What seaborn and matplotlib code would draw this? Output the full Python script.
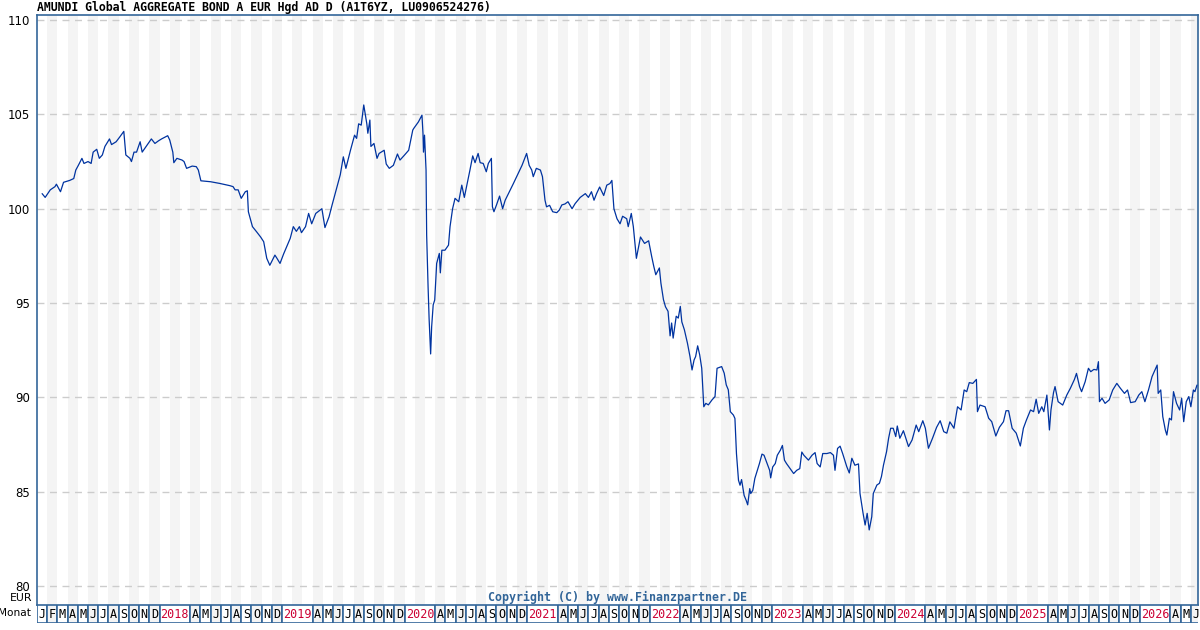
import matplotlib
matplotlib.use("Agg")
import matplotlib.pyplot as plt
import seaborn as sns

# price series: x = months since Jan 2017, y = fund price in EUR
months = [
    0.5, 0.8, 1.3, 1.76, 1.9, 2.3, 2.6, 3.2, 3.6, 3.8, 4.05, 4.4, 4.6, 5.0, 5.3, 5.5, 5.85, 6.1, 6.4, 6.65,
    7.1, 7.3, 7.75, 8.1, 8.5, 8.7, 9.1, 9.25, 9.5, 9.75, 10.1, 10.3, 10.9, 11.2, 11.55, 11.9, 12.2, 12.8, 13.0, 13.3,
    13.4, 13.7, 14.2, 14.4, 14.65, 15.2, 15.6, 15.8, 16.05, 17.0, 17.9, 18.9, 19.2, 19.4, 19.7, 20.0, 20.4, 20.6, 20.7, 21.1,
    21.5, 21.9, 22.2, 22.5, 22.8, 23.3, 23.5, 23.8, 24.15, 24.8, 25.1, 25.4, 25.7, 25.9, 26.3, 26.6, 26.9, 27.3, 27.9, 28.2,
    28.6, 28.9, 29.2, 29.7, 30.0, 30.25, 30.7, 31.1, 31.3, 31.5, 31.75, 32.0, 32.3, 32.4, 32.6, 32.7, 33.0, 33.3, 33.5, 34.0,
    34.2, 34.5, 34.9, 35.3, 35.55, 36.0, 36.4, 36.8, 36.9, 37.35, 37.7, 37.8, 37.85, 37.95, 38.1, 38.16, 38.3, 38.4, 38.55, 38.65,
    38.8, 38.95, 39.14, 39.4, 39.5, 39.65, 39.95, 40.3, 40.45, 40.7, 40.94, 41.3, 41.6, 41.85, 42.1, 42.4, 42.67, 42.9, 43.2, 43.4,
    43.7, 44.0, 44.2, 44.5, 44.6, 44.75, 45.0, 45.3, 45.6, 45.85, 46.65, 47.5, 47.95, 48.2, 48.45, 48.6, 48.9, 49.3, 49.5, 49.75,
    49.9, 50.2, 50.5, 50.9, 51.15, 51.4, 51.7, 52.0, 52.4, 52.7, 53.2, 53.7, 54.0, 54.3, 54.55, 54.8, 55.1, 55.5, 55.8, 56.1,
    56.3, 56.5, 56.8, 57.1, 57.35, 57.75, 57.9, 58.2, 58.4, 58.7, 59.1, 59.5, 59.9, 60.2, 60.4, 60.6, 60.95, 61.1, 61.35, 61.55,
    61.8, 62.0, 62.15, 62.3, 62.6, 62.8, 63.0, 63.15, 63.4, 63.7, 63.95, 64.15, 64.35, 64.5, 64.7, 64.9, 65.1, 65.3, 65.5, 65.75,
    66.1, 66.4, 66.6, 67.05, 67.3, 67.5, 67.7, 67.9, 68.2, 68.35, 68.5, 68.7, 68.85, 69.0, 69.25, 69.45, 69.6, 69.8, 69.9, 70.1,
    70.3, 70.55, 70.75, 71.0, 71.2, 71.5, 71.75, 71.85, 72.05, 72.3, 72.5, 72.8, 73.0, 73.2, 73.4, 73.75, 74.1, 74.4, 74.7, 74.9,
    75.1, 75.55, 75.9, 76.2, 76.4, 76.7, 76.95, 77.35, 77.7, 78.0, 78.15, 78.4, 78.65, 78.9, 79.3, 79.55, 79.8, 80.1, 80.45, 80.6,
    80.9, 81.1, 81.3, 81.5, 81.75, 81.9, 82.25, 82.5, 82.7, 82.9, 83.2, 83.4, 83.6, 83.85, 84.1, 84.25, 84.5, 84.85, 85.35, 85.7,
    86.1, 86.35, 86.75, 87.0, 87.3, 87.7, 88.1, 88.45, 88.8, 89.1, 89.4, 89.8, 90.15, 90.5, 90.8, 91.05, 91.3, 91.65, 92.0, 92.1,
    92.35, 92.85, 93.2, 93.5, 93.9, 94.25, 94.65, 94.9, 95.15, 95.5, 95.9, 96.3, 96.6, 96.9, 97.3, 97.6, 97.85, 98.1, 98.4, 98.6,
    98.9, 99.15, 99.3, 99.55, 99.7, 100.0, 100.45, 100.85, 101.2, 101.6, 101.8, 102.1, 102.3, 102.65, 102.97, 103.2, 103.5, 103.8, 103.95, 104.05,
    104.3, 104.6, 105.0, 105.35, 105.75, 106.1, 106.5, 106.8, 107.1, 107.55, 107.9, 108.2, 108.5, 108.85, 109.2, 109.7, 109.8, 110.05, 110.25, 110.5,
    110.65, 110.9, 111.1, 111.3, 111.6, 111.9, 112.1, 112.3, 112.55, 112.8, 113.0, 113.25, 113.4, 113.6,
]
prices = [
    100.8, 100.6, 101.0, 101.17, 101.3, 100.9, 101.4, 101.5, 101.6, 102.05, 102.3, 102.67, 102.4, 102.5, 102.4, 103.0, 103.15, 102.67, 102.85, 103.3,
    103.7, 103.4, 103.55, 103.8, 104.1, 102.85, 102.67, 102.5, 103.0, 103.0, 103.55, 103.0, 103.46, 103.7, 103.46, 103.6, 103.7, 103.87, 103.64, 103.0,
    102.44, 102.67, 102.58, 102.5, 102.14, 102.26, 102.23, 102.05, 101.48, 101.43, 101.34, 101.22, 101.17, 101.0, 101.0, 100.55, 100.9, 100.95, 99.84, 99.05,
    98.78, 98.5, 98.25, 97.37, 97.0, 97.54, 97.37, 97.1, 97.6, 98.43, 99.05, 98.8, 99.05, 98.73, 99.05, 99.75, 99.2, 99.75, 100.0, 99.0,
    99.57, 100.2, 100.8, 101.8, 102.75, 102.14, 103.1, 103.9, 103.73, 104.5, 104.43, 105.5, 104.5, 104.0, 104.7, 103.3, 103.46, 102.67, 102.93, 103.1,
    102.37, 102.14, 102.3, 102.9, 102.58, 102.85, 103.1, 104.17, 104.26, 104.6, 104.96, 104.0, 103.0, 103.9, 102.05, 98.6, 95.85, 94.17, 92.3, 93.75,
    94.9, 95.16, 97.1, 97.63, 96.6, 97.8, 97.8, 98.07, 99.05, 100.0, 100.55, 100.37, 101.25, 100.6, 101.25, 102.05, 102.8, 102.44, 102.93, 102.44,
    102.4, 101.96, 102.4, 102.67, 100.1, 99.84, 100.2, 100.67, 100.0, 100.45, 101.33, 102.3, 102.93, 102.3, 102.05, 101.7, 102.14, 102.05, 101.7, 100.45,
    100.1, 100.18, 99.84, 99.79, 99.93, 100.2, 100.25, 100.37, 100.0, 100.27, 100.6, 100.8, 100.6, 100.9, 100.45, 100.8, 101.15, 100.7, 101.25, 101.33,
    101.5, 100.0, 99.47, 99.2, 99.6, 99.47, 99.05, 99.75, 99.05, 97.37, 98.5, 98.16, 98.3, 97.46, 96.95, 96.5, 96.86, 96.06, 95.18, 94.8,
    94.56, 93.26, 93.94, 93.14, 94.3, 94.2, 94.82, 94.0, 93.58, 92.87, 92.16, 91.45, 91.98, 92.16, 92.73, 92.25, 91.54, 89.5, 89.68, 89.6,
    89.86, 90.04, 91.54, 91.63, 91.28, 90.66, 90.4, 89.24, 89.06, 88.88, 87.02, 85.6, 85.34, 85.64, 84.8, 84.54, 84.3, 85.16, 84.9, 85.07,
    85.7, 86.13, 86.49, 86.99, 86.93, 86.49, 86.13, 85.73, 86.31, 86.49, 86.93, 87.2, 87.45, 86.67, 86.49, 86.22, 85.96, 86.13, 86.22, 87.1,
    86.93, 86.67, 86.93, 87.07, 86.49, 86.31, 87.02, 87.02, 87.07, 86.93, 86.13, 87.29, 87.41, 87.02, 86.33, 85.99, 86.77, 86.4, 86.47, 84.9,
    83.85, 83.23, 83.85, 82.97, 83.67, 84.9, 85.35, 85.44, 85.8, 86.41, 87.12, 87.83, 88.36, 88.36, 87.92, 88.48, 87.83, 88.23, 87.39, 87.74,
    88.53, 88.18, 88.76, 88.36, 87.3, 87.83, 88.41, 88.76, 88.18, 88.1, 88.7, 88.36, 89.5, 89.33, 90.39, 90.3, 90.78, 90.74, 90.95, 89.24,
    89.59, 89.5, 88.89, 88.71, 87.95, 88.41, 88.71, 89.29, 89.29, 88.36, 88.1, 87.42, 88.36, 88.8, 89.33, 89.24, 89.9, 89.15, 89.5, 89.24,
    90.12, 88.27, 89.33, 90.25, 90.57, 89.77, 89.59, 90.12, 90.48, 90.95, 91.27, 90.57, 90.3, 90.83, 91.54, 91.36, 91.48, 91.45, 91.89, 89.77,
    89.95, 89.68, 89.86, 90.39, 90.74, 90.48, 90.21, 90.39, 89.72, 89.77, 90.12, 90.3, 89.77, 90.39, 91.1, 91.71, 90.21, 90.39, 88.98, 88.27,
    88.0, 88.89, 88.8, 90.3, 89.68, 89.33, 89.95, 88.71, 89.77, 90.04, 89.5, 90.39, 90.3, 90.65,
]

month_letters = list("JFMAMJJASOND")
years = list(range(2017, 2027))
y_ticks = [80, 85, 90, 95, 100, 105, 110]
n_months = 114  # Jan 2017 .. Jun 2026

title = "AMUNDI Global AGGREGATE BOND A EUR Hgd AD D (A1T6YZ, LU0906524276)"
copyright_text = "Copyright (C) by www.Finanzpartner.DE"

line_color = "#0033a0"
frame_color = "#336699"
band_color = "#f4f4f4"
year_color = "#cc0033"

sns.set_theme(style="white")
plt.rcParams["font.family"] = ["DejaVu Sans"]

W, H = 1200, 630
fig = plt.figure(figsize=(12, 6.3), dpi=100)
ax = fig.add_axes([37 / W, 1 - 605 / H, 1161 / W, 590 / H])
strip = fig.add_axes([37 / W, 1 - 623 / H, 1161 / W, 18 / H])

x_max = 113.7

# alternating month bands
for m in range(1, n_months, 2):
    ax.axvspan(m, m + 1, color=band_color, lw=0, zorder=0)

sns.lineplot(x=months, y=prices, ax=ax, color=line_color, linewidth=0.9, zorder=3)

ax.set_xlim(0, x_max)
ax.set_ylim(78.99, 110.27)
ax.set_yticks(y_ticks)
ax.set_yticklabels([str(v) for v in y_ticks], fontsize=8.5, color="black")
ax.set_xticks([])
ax.tick_params(axis="y", length=0, pad=5)
ax.set_xlabel("")
ax.set_ylabel("")
ax.set_axisbelow(True)
ax.grid(axis="y", color="#cccccc", linestyle=(0, (5, 4)), linewidth=1)
for sp in ax.spines.values():
    sp.set_color(frame_color)
    sp.set_linewidth(1.2)

# month strip: cells for every month, Jan-Mar merged into a year cell from 2018 on
starts, widths, fills, labels, colors = [], [], [], [], []
for i, yr in enumerate(years):
    base = i * 12
    if yr == years[0]:
        idx = range(12)
    else:
        starts.append(base)
        widths.append(3)
        fills.append("white")
        labels.append(str(yr))
        colors.append(year_color)
        idx = range(3, 12)
    for k in idx:
        if base + k >= n_months:
            break
        starts.append(base + k)
        widths.append(1)
        fills.append(band_color if k % 2 == 1 else "white")
        labels.append(month_letters[k])
        colors.append("black")

strip.bar(starts, [1] * len(starts), width=widths, align="edge", color=fills,
          edgecolor=frame_color, linewidth=1.2)
for s, w, lab, c in zip(starts, widths, labels, colors):
    cx = s + w / 2
    if cx < x_max:
        strip.text(cx, 0.45, lab, ha="center", va="center", color=c,
                   fontsize=8.5, family="DejaVu Sans Mono")
strip.set_xlim(0, x_max)
strip.set_ylim(0, 1)
strip.axis("off")

fig.text(37 / W, 1 - 8 / H, title, ha="left", va="center", fontsize=8.3,
         fontweight="bold", family="DejaVu Sans Mono", color="black")
fig.text(32 / W, 1 - 598 / H, "EUR", ha="right", va="center", fontsize=7.8, color="black")
fig.text(31 / W, 1 - 613 / H, "Monat", ha="right", va="center", fontsize=7.6, color="black")
fig.text(617 / W, 1 - 597 / H, copyright_text, ha="center", va="center",
         fontsize=8.4, fontweight="bold", family="DejaVu Sans Mono", color=frame_color)

fig.savefig("out.png", dpi=100)
